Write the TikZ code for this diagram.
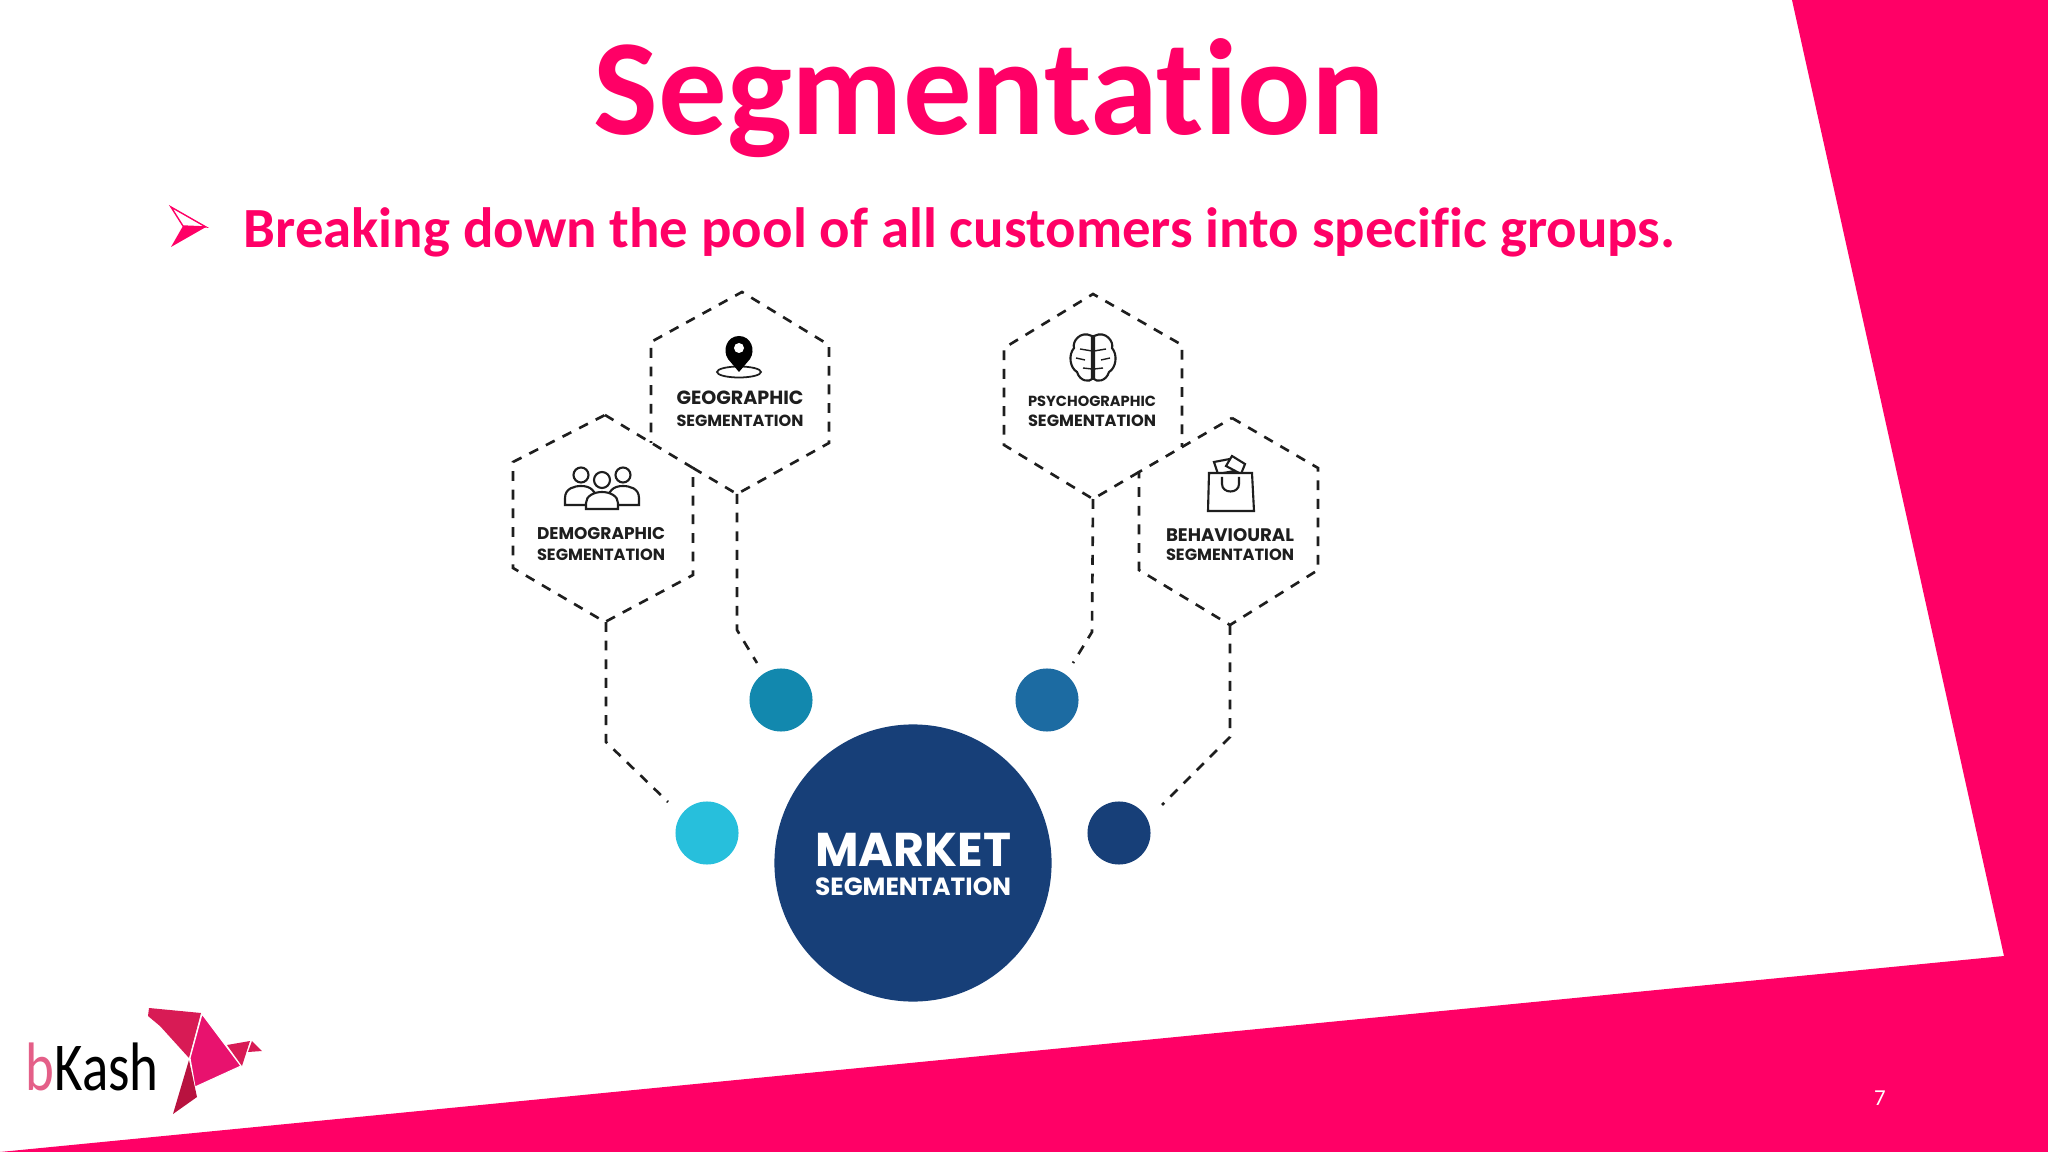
\documentclass[tikz,border=0pt]{standalone}
\usepackage{fontspec}
\usepackage{graphicx}
\setmainfont{Carlito}[Ligatures=NoCommon]
\newfontfamily\capsfont{Poppins}
\usetikzlibrary{positioning}
\definecolor{bkpink}{HTML}{FF0066}
\definecolor{navy}{HTML}{173F78}
\definecolor{inktxt}{HTML}{1E1E1E}
\definecolor{dotcyan}{HTML}{27BFDC}
\definecolor{dotteal}{HTML}{1288AE}
\definecolor{dotblue}{HTML}{1C6BA2}
\definecolor{wingred}{HTML}{D81B55}
\definecolor{bodypink}{HTML}{E8126E}
\definecolor{tailred}{HTML}{B8123F}
\newcommand{\fitwidth}[2]{\resizebox{\dimexpr 0.01cm*#1\relax}{!}{#2}}
\tikzset{>=latex}

\begin{document}
\begin{tikzpicture}[x=0.01cm,y=-0.01cm,
	hexline/.style={draw=inktxt, line width=0.75pt, dash pattern=on 2.8pt off 2.5pt},
	dot/.style={circle, inner sep=0pt, minimum size=0.63cm},
	seglabel/.style={inner sep=0pt, text=inktxt, font=\capsfont\bfseries},
	icon/.style={draw=inktxt, line width=0.6pt, fill=white}]
	\useasboundingbox (0,0) rectangle (2048,1152);
	\fill[white] (0,0) rectangle (2048,1152);
	\fill[bkpink] (1792,0) -- (2004,956) -- (0,1152) -- (2048,1152) -- (2048,0) -- cycle;

	% heading
	\node[inner sep=0pt, text=bkpink, font=\fontsize{38.9}{39}\selectfont\bfseries, anchor=base] (title) at (989,135) {Segmentation};
	\node[inner sep=0pt, text=bkpink, font=\fontsize{16.15}{18}\selectfont\bfseries, anchor=base west] (sub) at (243,248) {Breaking down the pool of all customers into specific groups.};
	\fill[bkpink] (171,247) -- (206,227) -- (183,226) -- cycle;
	\draw[bkpink, line width=0.4pt] (171,207) -- (206,227) -- (183,226) -- cycle;

	% hexagons
	\draw[hexline] (693,468) -- (737,494) -- (829,443) -- (829,345) -- (742,292) -- (651,342) -- (651,443);
	\draw[hexline] (605,415) -- (693,468) -- (693,575) -- (605,622) -- (513,568) -- (513,462) -- cycle;
	\draw[hexline] (1139,472) -- (1093,499) -- (1004,445) -- (1004,348) -- (1093,294) -- (1182,345) -- (1182,447);
	\draw[hexline] (1232,418) -- (1318,468) -- (1318,570) -- (1230,625) -- (1139,570) -- (1139,472) -- cycle;

	% circles
	\node[dot, fill=navy, minimum size=2.77cm] (market) at (913,863) {};
	\node[dot, fill=dotcyan] (c1) at (707,833) {};
	\node[dot, fill=dotteal] (c2) at (781,700) {};
	\node[dot, fill=dotblue] (c3) at (1047,700) {};
	\node[dot, fill=navy] (c4) at (1119,833) {};
	\node[inner sep=0pt, text=white, font=\capsfont\bfseries] (mk1) at (913,850) {\fitwidth{196}{MARKET}};
	\node[inner sep=0pt, text=white, font=\capsfont\bfseries] (mk2) at (913,887) {\fitwidth{196}{SEGMENTATION}};

	% connectors
	\coordinate (hd) at (606,622);
	\coordinate (hg) at (737,494);
	\coordinate (hp) at (1093,499);
	\coordinate (hb) at (1230,625);
	\coordinate (e1) at (668,802);
	\coordinate (e2) at (757,663);
	\coordinate (e3) at (1073,663);
	\coordinate (e4) at (1162,805);
	\draw[hexline] (hd) -- (606,742) -- (e1);
	\draw[hexline] (hg) -- (737,630) -- (e2);
	\draw[hexline] (hp) -- (1092,632) -- (e3);
	\draw[hexline] (hb) -- (1230,737) -- (e4);

	% labels
	\node[seglabel] (g1) at (740,398) {\fitwidth{127}{GEOGRAPHIC}};
	\node[seglabel] (g2) at (740,421) {\fitwidth{127}{SEGMENTATION}};
	\node[seglabel] (d1) at (601,534) {\fitwidth{128}{DEMOGRAPHIC}};
	\node[seglabel] (d2) at (601,555) {\fitwidth{128}{SEGMENTATION}};
	\node[seglabel] (p1) at (1092,401) {\fitwidth{128}{PSYCHOGRAPHIC}};
	\node[seglabel] (p2) at (1092,421) {\fitwidth{128}{SEGMENTATION}};
	\node[seglabel] (b1) at (1230,535) {\fitwidth{128}{BEHAVIOURAL}};
	\node[seglabel] (b2) at (1230,555) {\fitwidth{128}{SEGMENTATION}};

	% pin
	\draw[inktxt, line width=0.5pt] (739,372) ellipse (22 and 5.5);
	\fill[black] (739,372) -- (728,359) .. controls (722,350) and (727,336) .. (739,336) .. controls (751,336) and (756,350) .. (750,359) -- cycle;
	\fill[white] (739,348) circle (5);

	% people
	\draw[icon] (581,475) circle (7.5);
	\draw[icon] (623,475) circle (7.5);
	\draw[icon] (565,505) -- (565,498) .. controls (565,488) and (575,486) .. (581,486) .. controls (590,486) and (597,490) .. (597,505) -- cycle;
	\draw[icon] (639,505) -- (639,498) .. controls (639,488) and (629,486) .. (623,486) .. controls (614,486) and (607,490) .. (607,505) -- cycle;
	\draw[icon] (602,480) circle (8);
	\draw[icon] (586,509) -- (586,503) .. controls (586,496) and (594,492) .. (602,492) .. controls (610,492) and (618,496) .. (618,503) -- (618,509) -- cycle;

	% brain
	\draw[icon, fill=none] (1092,336) .. controls (1080,330) and (1072,342) .. (1074,348) .. controls (1068,355) and (1070,368) .. (1077,372) .. controls (1080,382) and (1090,382) .. (1092,379) -- cycle;
	\draw[icon, fill=none] (1094,336) .. controls (1106,330) and (1114,342) .. (1112,348) .. controls (1118,355) and (1116,368) .. (1109,372) .. controls (1106,382) and (1096,382) .. (1094,379) -- cycle;
	\draw[inktxt, line width=0.4pt] (1080,349) -- (1092,351) (1076,358) -- (1085,360) (1083,368) -- (1092,369) (1106,349) -- (1094,351) (1110,358) -- (1101,360) (1103,368) -- (1094,369);

	% bag
	\draw[icon] (1214,462) -- (1235,458) -- (1240,470) -- (1218,474) -- cycle;
	\draw[icon] (1226,466) -- (1232,456) -- (1245,464) -- (1241,474) -- cycle;
	\draw[icon] (1208,511) -- (1209,473) -- (1252,473) -- (1254,511) -- cycle;
	\draw[inktxt, line width=0.6pt] (1222,477) -- (1222,484) .. controls (1222,494) and (1239,494) .. (1239,484) -- (1239,477);

	% logo
	\node[inner sep=0pt, anchor=base west, font=\fontsize{19.5}{20}\selectfont] (logotxt) at (25,1090) {\scalebox{0.8}[1]{\textcolor{wingred!70!white}{b}\textcolor{black}{Kash}}};
	\fill[wingred] (149,1008) -- (201,1013) -- (189,1058) -- (160,1026) -- (148,1016) -- cycle;
	\fill[bodypink, draw=white, line width=0.3pt] (202,1014) -- (241,1066) -- (195,1087) -- (190,1058) -- cycle;
	\fill[tailred] (189,1060) -- (197,1097) -- (173,1114) -- cycle;
	\fill[wingred] (227,1045) -- (250,1041) -- (242,1066) -- cycle;
	\fill[wingred] (252,1041) -- (262,1051) -- (248,1052) -- cycle;

	\node[inner sep=0pt, text=white, font=\fontsize{6.5}{7}\selectfont] (pageno) at (1880,1098) {7};
\end{tikzpicture}
\end{document}
